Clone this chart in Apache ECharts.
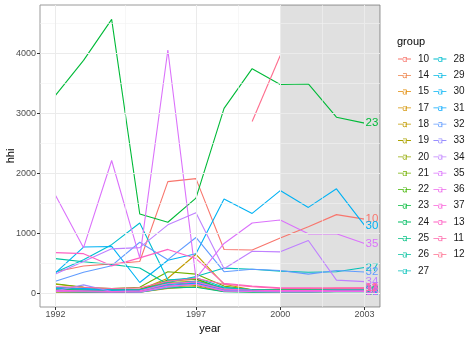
<!DOCTYPE html>
<html>
<head>
<meta charset="utf-8">
<script src="https://cdn.jsdelivr.net/npm/echarts@6/dist/echarts.min.js"></script>
<style>
  html, body { margin: 0; padding: 0; background: #fff; }
  #chart { width: 474px; height: 338px; }
</style>
</head>
<body>
<div id="chart"></div>
<script>
// Years on the x axis
const years = [1992, 1993, 1994, 1995, 1996, 1997, 1998, 1999, 2000, 2001, 2002, 2003];

// Group order as listed in the legend
const groups = ['10','14','15','17','18','19','20','21','22','23','24','25','26','27','28','29','30','31','32','33','34','35','36','37','13','11','12'];

// hhi per group, one value per year (null = no observation)
const g10 = [360, 455, 490, 530, 1860, 1910, 730, 720, 920, 1110, 1310, 1235];
const g14 = [40, 35, 30, 45, 200, 230, 60, 50, 60, 70, 80, 85];
const g15 = [20, 18, 15, 20, 80, 110, 30, 25, 30, 30, 35, 35];
const g17 = [60, 50, 40, 45, 120, 160, 40, 30, 35, 35, 40, 40];
const g18 = [150, 100, 60, 60, 250, 650, 150, 60, 50, 50, 50, 50];
const g19 = [30, 25, 20, 30, 100, 130, 35, 25, 25, 25, 30, 30];
const g20 = [90, 70, 60, 70, 180, 200, 60, 45, 45, 45, 50, 50];
const g21 = [160, 100, 80, 100, 360, 320, 120, 60, 60, 60, 65, 65];
const g22 = [70, 55, 50, 60, 220, 240, 70, 45, 40, 40, 45, 45];
const g23 = [3295, 3878, 4560, 1320, 1183, 1584, 3080, 3740, 3476, 3487, 2932, 2833];
const g24 = [45, 40, 30, 35, 150, 180, 50, 35, 35, 35, 40, 40];
const g25 = [25, 20, 15, 20, 90, 100, 25, 20, 20, 20, 25, 25];
const g26 = [578, 525, 480, 420, 150, 200, 90, 60, 55, 55, 60, 60];
const g27 = [55, 45, 40, 50, 180, 280, 420, 400, 370, 350, 360, 430];
const g28 = [350, 560, 810, 1170, 220, 260, 100, 60, 50, 50, 55, 55];
const g29 = [80, 70, 50, 60, 150, 200, 60, 40, 35, 35, 40, 40];
const g30 = [340, 770, 780, 180, 550, 660, 1570, 1330, 1710, 1430, 1740, 1130];
const g31 = [100, 80, 60, 50, 130, 170, 50, 35, 30, 30, 30, 30];
const g32 = [200, 350, 460, 850, 560, 930, 360, 400, 380, 320, 380, 355];
const g33 = [40, 140, 30, 20, 100, 150, 40, 30, 25, 25, 30, 30];
const g34 = [320, 530, 740, 760, 1140, 1340, 410, 700, 690, 880, 220, 195];
const g35 = [1634, 760, 2211, 589, 4050, 248, 830, 1170, 1220, 990, 990, 830];
const g36 = [30, 25, 20, 25, 120, 150, 40, 30, 25, 25, 30, 30];
const g37 = [50, 40, 30, 40, 160, 190, 70, 50, 45, 45, 50, 50];
const g13 = [677, 660, 457, 590, 731, 578, 165, 120, 90, 90, 85, 85];
const g11 = [110, 100, 80, 90, 200, 250, 150, 110, 80, 80, 90, 90];
const g12 = [null, null, null, null, null, null, null, 2860, 3960, null, null, null];

const groupValues = [g10, g14, g15, g17, g18, g19, g20, g21, g22, g23, g24, g25, g26, g27,
                     g28, g29, g30, g31, g32, g33, g34, g35, g36, g37, g13, g11, g12];

// Axis breaks
const xBreaks = [1992, 1997, 2000, 2003];
const xMinorBreaks = [1994.5, 1998.5, 2001.5];
const yBreaks = [0, 1000, 2000, 3000, 4000];
const yMinorBreaks = [500, 1500, 2500, 3500, 4500];
const shadeStart = 2000;

// Polar LUV (HCL) to hex, as used for evenly spaced discrete hues
function hcl(h, c, l) {
  const hr = h * Math.PI / 180;
  const U = c * Math.cos(hr), V = c * Math.sin(hr);
  const Xn = 95.047, Yn = 100, Zn = 108.883;
  const Y = l > 8 ? Yn * Math.pow((l + 16) / 116, 3) : Yn * l / 903.3;
  const t = Xn + 15 * Yn + 3 * Zn;
  const un = 4 * Xn / t, vn = 9 * Yn / t;
  const u = U / (13 * l) + un, v = V / (13 * l) + vn;
  const X = 9 * Y * u / (4 * v);
  const Z = Y * (12 - 3 * u - 20 * v) / (4 * v);
  const x = X / 100, y = Y / 100, z = Z / 100;
  const lin = [
    3.240479 * x - 1.537150 * y - 0.498535 * z,
    -0.969256 * x + 1.875992 * y + 0.041556 * z,
    0.055648 * x - 0.204043 * y + 1.057311 * z
  ];
  return '#' + lin.map(function (cc) {
    let g = cc <= 0.0031308 ? 12.92 * cc : 1.055 * Math.pow(cc, 1 / 2.4) - 0.055;
    g = Math.max(0, Math.min(1, g));
    return Math.round(g * 255).toString(16).padStart(2, '0');
  }).join('');
}
const n = groups.length;
const palette = groups.map(function (_, i) { return hcl(15 + 360 * i / n, 100, 65); });

const xMin = 1991.45, xMax = 2003.55;
const yMin = -228, yMax = 4800;

// Legend key: a short line with a small "a" glyph across it
const keyIcon = 'path://M0 0 L0.01 0 L0.01 0.01 Z M12.99 11.99 L13 11.99 L13 12 Z ' +
  'M0 5.6 L13 5.6 L13 6.4 L0 6.4 Z ' +
  'M4.6 7.3 A2 1.7 0 1 0 8.6 7.3 A2 1.7 0 1 0 4.6 7.3 Z ' +
  'M5.4 7.3 A1.2 1.0 0 1 1 7.8 7.3 A1.2 1.0 0 1 1 5.4 7.3 Z ' +
  'M8.2 4.3 L8.9 4.3 L8.9 9 L8.2 9 Z M5.0 4.0 L8.6 4.0 L8.6 4.7 L5.0 4.7 Z';

const lineSeries = groups.map(function (g, i) {
  const vals = groupValues[i];
  const hasLast = vals[vals.length - 1] != null;
  return {
    name: g,
    type: 'line',
    data: years.map(function (yr, k) { return [yr, vals[k]]; }),
    showSymbol: false,
    symbol: 'none',
    connectNulls: false,
    color: palette[i],
    lineStyle: { width: 1.1, color: palette[i] },
    z: 3,
    silent: true,
    endLabel: {
      show: hasLast,
      formatter: g,
      color: palette[i],
      fontSize: 11.5,
      fontFamily: 'Liberation Sans, Arial, sans-serif',
      distance: 1
    }
  };
});

// Grid lines and the shaded period
const guideSeries = {
  name: '__guides',
  type: 'line',
  data: [],
  silent: true,
  z: 1,
  markLine: {
    silent: true,
    symbol: 'none',
    animation: false,
    label: { show: false },
    data: [].concat(
      xMinorBreaks.map(function (v) { return { xAxis: v, lineStyle: { color: '#f2f2f2', width: 0.6, type: 'solid' } }; }),
      yMinorBreaks.map(function (v) { return { yAxis: v, lineStyle: { color: '#f2f2f2', width: 0.6, type: 'solid' } }; }),
      xBreaks.map(function (v) { return { xAxis: v, lineStyle: { color: '#ebebeb', width: 1, type: 'solid' } }; }),
      yBreaks.map(function (v) { return { yAxis: v, lineStyle: { color: '#ebebeb', width: 1, type: 'solid' } }; })
    )
  }
};
const shadeSeries = {
  name: '__shade',
  type: 'line',
  data: [],
  silent: true,
  z: 10,
  markArea: {
    silent: true,
    animation: false,
    itemStyle: { color: 'rgba(0,0,0,0.12)' },
    data: [[{ xAxis: shadeStart }, { xAxis: xMax }]]
  }
};

const chart = echarts.init(document.getElementById('chart'), null, { renderer: 'canvas' });
chart.setOption({
  animation: false,
  backgroundColor: '#ffffff',
  textStyle: { fontFamily: 'Liberation Sans, Arial, sans-serif' },
  title: {
    text: 'group',
    left: 397,
    top: 36,
    padding: 0,
    textStyle: { fontSize: 11, fontWeight: 'normal', color: '#000', fontFamily: 'Liberation Sans, Arial, sans-serif' }
  },
  legend: {
    type: 'plain',
    orient: 'vertical',
    left: 398,
    top: 53,
    padding: 0,
    height: 228,
    itemWidth: 13,
    itemHeight: 12,
    itemGap: 4.3,
    selectedMode: false,
    icon: keyIcon,
    data: groups,
    textStyle: { fontSize: 10, color: '#1a1a1a', padding: [0, 0, 0, 2], fontFamily: 'Liberation Sans, Arial, sans-serif' }
  },
  grid: {
    left: 40, right: 94, top: 5, bottom: 31,
    containLabel: false,
    outerBoundsMode: 'none',
    show: true,
    borderColor: '#9a9a9a',
    borderWidth: 1,
    backgroundColor: 'transparent'
  },
  xAxis: {
    type: 'value',
    min: xMin, max: xMax,
    name: 'year',
    nameLocation: 'middle',
    nameGap: 15,
    nameTextStyle: { fontSize: 11, color: '#000' },
    axisLine: { show: false, onZero: false },
    axisTick: { show: true, length: 3, customValues: xBreaks, lineStyle: { color: '#333' } },
    axisLabel: { customValues: xBreaks, fontSize: 9, color: '#4d4d4d', margin: 3, formatter: function (v) { return String(v); } },
    splitLine: { show: false }
  },
  yAxis: {
    type: 'value',
    min: yMin, max: yMax,
    name: 'hhi',
    nameLocation: 'middle',
    nameRotate: 90,
    nameGap: 24,
    nameMoveOverlap: false,
    nameTextStyle: { fontSize: 11, color: '#000' },
    axisLine: { show: false, onZero: false },
    axisTick: { show: true, length: 3, customValues: yBreaks, lineStyle: { color: '#333' } },
    axisLabel: { customValues: yBreaks, fontSize: 9, color: '#4d4d4d', margin: 4, formatter: function (v) { return String(v); } },
    splitLine: { show: false }
  },
  series: [guideSeries].concat(lineSeries, [shadeSeries])
});
</script>
</body>
</html>
